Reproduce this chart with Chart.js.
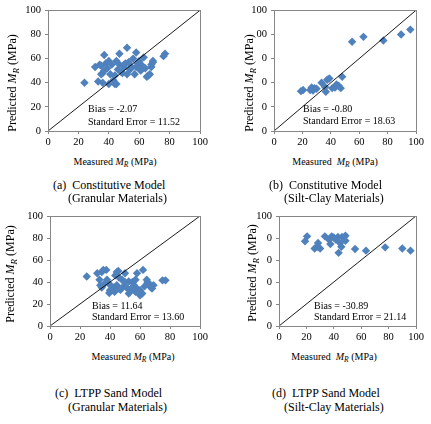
<!DOCTYPE html>
<html>
<head>
<meta charset="utf-8">
<script src="https://cdn.jsdelivr.net/npm/chart.js@4"></script>
<style>
  body { margin: 0; width: 431px; height: 424px; position: relative; background: #fff; overflow: hidden;
         font-family: 'Liberation Serif', 'Times New Roman', serif; color: #000; }
  canvas { position: absolute; }
  .ytitle { position: absolute; white-space: nowrap; font-size: 12px; line-height: 12px;
            transform: translate(-50%, -50%) rotate(-90deg); }
  .xtitle { position: absolute; white-space: nowrap; font-size: 10px; line-height: 12px;
            transform: translate(-50%, -50%); }
  .stat { position: absolute; white-space: nowrap; font-size: 10px; line-height: 12px; }
  .cap { position: absolute; white-space: nowrap; font-size: 12px; line-height: 14px; }
  sub { font-size: 75%; vertical-align: -0.3em; line-height: 0; }
</style>
</head>
<body>
<canvas id="cA" width="215" height="150" style="left:0;top:0"></canvas>
<canvas id="cB" width="216" height="150" style="left:215px;top:0"></canvas>
<canvas id="cC" width="215" height="145" style="left:0;top:200px"></canvas>
<canvas id="cD" width="216" height="145" style="left:215px;top:200px"></canvas>

<div class="ytitle" style="left:12px;top:83px">Predicted <i>M<sub>R</sub></i> (MPa)</div>
<div class="ytitle" style="left:249px;top:83px">Predicted <i>M<sub>R</sub></i> (MPa)</div>
<div class="ytitle" style="left:10px;top:274px">Predicted <i>M<sub>R</sub></i> (MPa)</div>
<div class="ytitle" style="left:252px;top:273px">Predicted <i>M<sub>R</sub></i> (MPa)</div>

<div class="xtitle" style="left:115px;top:162px">Measured <i>M<sub>R</sub></i> (MPa)</div>
<div class="xtitle" style="left:335px;top:162px">Measured&nbsp; <i>M<sub>R</sub></i> (MPa)</div>
<div class="xtitle" style="left:133px;top:357px">Measured <i>M<sub>R</sub></i> (MPa)</div>
<div class="xtitle" style="left:334px;top:357px">Measured&nbsp; <i>M<sub>R</sub></i> (MPa)</div>

<div class="stat" style="left:88px;top:103px">Bias = -2.07</div>
<div class="stat" style="left:88px;top:116px">Standard Error = 11.52</div>
<div class="stat" style="left:303px;top:103px">Bias = -0.80</div>
<div class="stat" style="left:303px;top:115px">Standard Error = 18.63</div>
<div class="stat" style="left:92px;top:300px">Bias = 11.64</div>
<div class="stat" style="left:92px;top:311px">Standard Error = 13.60</div>
<div class="stat" style="left:314px;top:300px">Bias = -30.89</div>
<div class="stat" style="left:314px;top:311px">Standard Error = 21.14</div>

<div class="cap" style="left:53px;top:178px">(a)&nbsp; Constitutive Model</div>
<div class="cap" style="left:68px;top:191px">(Granular Materials)</div>
<div class="cap" style="left:269px;top:178px">(b)&nbsp; Constitutive Model</div>
<div class="cap" style="left:284px;top:191px">(Silt-Clay Materials)</div>
<div class="cap" style="left:55px;top:386px">(c)&nbsp; LTPP Sand Model</div>
<div class="cap" style="left:68px;top:400px">(Granular Materials)</div>
<div class="cap" style="left:272px;top:386px">(d)&nbsp; LTPP Sand Model</div>
<div class="cap" style="left:284px;top:400px">(Silt-Clay Materials)</div>

<script>
const measuredA = [24, 31, 33, 34, 35, 35, 36, 36, 37, 37, 38, 39, 40, 40, 41, 42, 43, 44, 44, 45,
                   45, 46, 47, 47, 48, 49, 50, 50, 51, 52, 52, 53, 54, 55, 56, 57, 58, 58, 59, 60,
                   60, 61, 62, 63, 64, 65, 66, 67, 68, 68, 69, 69, 76, 77];
const predictedA = [40, 53, 41, 55, 54, 47, 40, 48, 50, 63, 56, 52, 58, 39, 47, 55, 42, 46, 39, 39,
                    58, 51, 64, 55, 49, 48, 53, 55, 56, 69, 47, 57, 51, 53, 60, 47, 53, 65, 56, 52,
                    58, 50, 54, 61, 52, 45, 46, 47, 53, 55, 57, 58, 62, 64];

const measuredB = [19, 20.5, 25.5, 26.5, 27.5, 28.5, 30, 33.5, 36, 36.5, 37.5, 39, 41, 43, 44, 45.5,
                   47, 48, 55, 63, 77, 89.5, 96];
const predictedB = [33, 34, 34, 36, 33.5, 35.5, 35, 40, 36.5, 32.5, 42.5, 43.5, 35.5, 36, 38.5, 37.5,
                    35.5, 45, 74, 78, 75, 80, 84];

const measuredC = [24.5, 31.5, 33, 33.5, 34.5, 34.5, 35.5, 37.5, 38, 39, 39.5, 40, 42.5, 43.5, 44.5,
                   44.5, 45.5, 46, 48, 49, 50, 51, 52.5, 52.5, 53.5, 55, 56, 57, 58, 58, 60, 60, 61.5,
                   62, 64.5, 66, 67, 68, 69, 75, 77, 36, 41, 47, 50, 54, 63, 65, 57, 43, 46];
const predictedC = [45, 48, 42, 37, 49, 35, 51, 51, 42, 39, 30, 32.5, 35, 46, 49, 37, 50, 34, 42, 36,
                    48, 35, 40.5, 29.5, 32.5, 40, 37, 42, 34, 48, 32.5, 28, 29.5, 51, 42, 38.5, 35.5,
                    34, 37, 41.5, 41.5, 38, 36, 33, 40, 34, 36, 40, 31, 31, 44];

const measuredD = [19, 20.5, 26, 28, 28.5, 30, 33.5, 36.5, 37.5, 38.5, 40, 41.5, 43, 43.5, 44.5, 45.5,
                   46, 48.5, 48.5, 55.5, 63.5, 77.5, 90, 96];
const predictedD = [77, 81.5, 70.5, 72, 75.5, 70.5, 81.5, 78.5, 74.5, 81.5, 80.5, 78.5, 81, 66.5, 75.5,
                    72, 81, 82, 77.5, 70, 68.5, 71.5, 70.5, 68.5];

// line of equality
const equalityX = [0, 100];
const equalityY = [0, 100];

const xTicks = ['0', '20', '40', '60', '80', '100'];
const yTicks = ['0', '20', '40', '60', '80', '100'];
// in (b) and (d) the axis title hides the leading digits
const yTicksB = ['0', '0', '0', '0', '00', '100'];
const yTicksD = ['0', '0', '0', '0', '0', '100'];

const axisGrey = '#868686';
const tickFont = { family: "'Liberation Serif', 'Times New Roman', serif", size: 10.5 };

const frame = {
    id: 'frame',
    afterDraw(chart) {
        const a = chart.chartArea, ctx = chart.ctx;
        ctx.save();
        ctx.strokeStyle = axisGrey;
        ctx.lineWidth = 1;
        ctx.strokeRect(Math.round(a.left) + 0.5, Math.round(a.top) + 0.5,
                       Math.round(a.right - a.left), Math.round(a.bottom - a.top));
        ctx.restore();
    }
};

function makePanel(id, xs, ys, yLabels, yWidth, padTop) {
    const pts = xs.map((x, i) => ({ x: x, y: ys[i] }));
    const diag = equalityX.map((x, i) => ({ x: x, y: equalityY[i] }));
    new Chart(document.getElementById(id), {
        type: 'scatter',
        data: {
            datasets: [{
                data: diag,
                type: 'line',
                showLine: true,
                borderColor: '#000',
                borderWidth: 0.9,
                pointRadius: 0,
                order: 0
            }, {
                data: pts,
                pointStyle: 'rectRot',
                pointRadius: 4.2,
                backgroundColor: '#4f81bd',
                borderColor: '#4f81bd',
                borderWidth: 0,
                order: 1
            }]
        },
        options: {
            responsive: false,
            animation: false,
            layout: { padding: { top: padTop, right: 15, left: 0, bottom: 0 } },
            plugins: { legend: { display: false }, tooltip: { enabled: false } },
            scales: {
                x: {
                    type: 'linear', min: 0, max: 100,
                    ticks: { stepSize: 20, font: tickFont, color: '#000', padding: 2, maxRotation: 0,
                             callback: (v, i) => xTicks[i] },
                    grid: { drawOnChartArea: false, tickLength: 3, color: axisGrey },
                    border: { color: axisGrey },
                    afterFit: s => { s.height = 19; }
                },
                y: {
                    type: 'linear', min: 0, max: 100,
                    ticks: { stepSize: 20, font: tickFont, color: '#000', padding: 4,
                             callback: (v, i) => yLabels[i] },
                    grid: { drawOnChartArea: false, tickLength: 3, color: axisGrey },
                    border: { color: axisGrey },
                    afterFit: s => { s.width = yWidth; }
                }
            }
        },
        plugins: [frame]
    });
}

makePanel('cA', measuredA, predictedA, yTicks, 48, 9);
makePanel('cB', measuredB, predictedB, yTicksB, 59, 9);
makePanel('cC', measuredC, predictedC, yTicks, 50, 16);
makePanel('cD', measuredD, predictedD, yTicksD, 64, 16);
</script>
</body>
</html>
